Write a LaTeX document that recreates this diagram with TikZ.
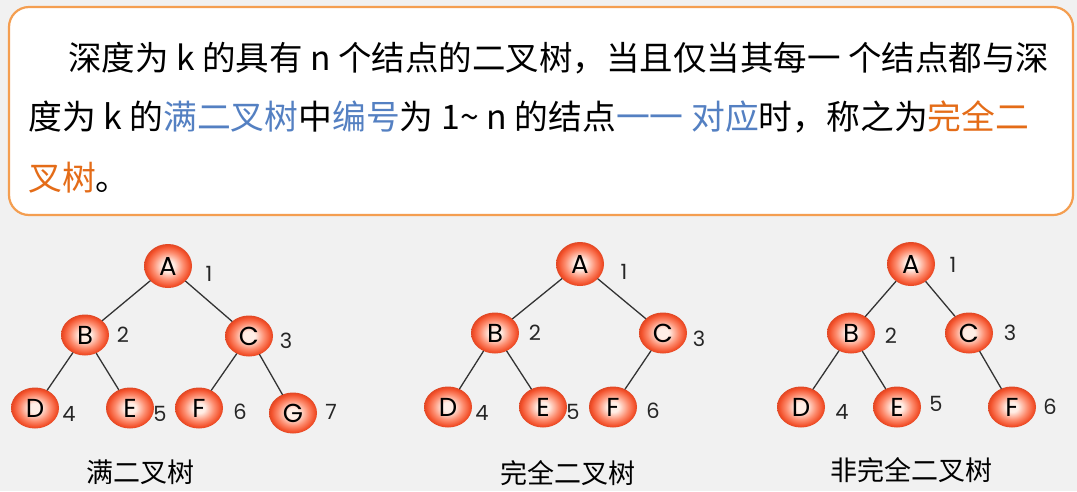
\documentclass[tikz,border=0pt]{standalone}
\usepackage{fontspec}
\setmainfont{Poppins}
\newfontfamily\cjk{Noto Sans CJK SC}
\usetikzlibrary{shapes.geometric}
\definecolor{bgGray}{RGB}{241,241,241}
\definecolor{boxOrange}{RGB}{244,158,80}
\definecolor{txtBlue}{RGB}{84,128,194}
\definecolor{txtOrange}{RGB}{228,108,24}
\definecolor{ballCore}{RGB}{255,238,230}
\definecolor{ballMid}{RGB}{253,138,108}
\definecolor{ballRim}{RGB}{242,78,40}
\pgfdeclareradialshading{redball}{\pgfpoint{0bp}{0bp}}{color(0bp)=(ballCore); color(6bp)=(ballCore); color(16bp)=(ballMid); color(23bp)=(ballRim); color(25bp)=(ballRim!92!black); color(50bp)=(ballRim!92!black)}
\tikzset{
  tnode/.style={ellipse, shade, shading=redball, minimum width=48pt, minimum height=41pt, inner sep=0pt, font=\fontsize{26}{26}\selectfont},
  num/.style={font=\fontsize{21}{21}\selectfont, text=black!85},
  edge/.style={black!80, line width=1.3pt},
  caption/.style={font=\cjk\fontsize{27}{27}\selectfont},
  para/.style={anchor=west, inner sep=0pt, font=\cjk\fontsize{33.8}{33.8}\selectfont}
}
\begin{document}
\begin{tikzpicture}[x=1pt, y=-1pt, line join=round, line cap=round]
  \useasboundingbox (0,0) rectangle (1077,491);
  \fill[bgGray] (0,0) rectangle (1077,491);

  % definition box
  \draw[boxOrange, line width=2.2pt, fill=white, rounded corners=20pt] (9,7) rectangle (1073,215);
  \node[para, font=\cjk\fontsize{33.5}{33.5}\selectfont] (line1) at (68,58) {深度为 k 的具有 n 个结点的二叉树，当且仅当其每一 个结点都与深};
  \node[para] (line2) at (28,117) {度为 k 的\textcolor{txtBlue}{满二叉树}中\textcolor{txtBlue}{编号}为 1\textasciitilde{} n 的结点\textcolor{txtBlue}{一一 对应}时，称之为\textcolor{txtOrange}{完全二}};
  \node[para] (line3) at (28,178) {\textcolor{txtOrange}{叉树}。};

  % full binary tree
  \node[tnode, minimum height=44pt] (a1) at (168,266) {A};
  \node[tnode] (b1) at (85,335) {B};
  \node[tnode] (c1) at (249,336) {C};
  \node[tnode] (d1) at (35,408) {D};
  \node[tnode] (e1) at (130,408) {E};
  \node[tnode] (f1) at (199,408) {F};
  \node[tnode] (g1) at (293,413) {G};
  \draw[edge] (a1) -- (b1);
  \draw[edge] (a1) -- (c1);
  \draw[edge] (b1) -- (d1);
  \draw[edge] (b1) -- (e1);
  \draw[edge] (c1) -- (f1);
  \draw[edge] (c1) -- (g1);
  \node[num] (n11) at (209,274) {1};
  \node[num] (n12) at (123,335) {2};
  \node[num] (n13) at (286,341) {3};
  \node[num] (n14) at (69,414) {4};
  \node[num] (n15) at (160,414) {5};
  \node[num] (n16) at (240,412) {6};
  \node[num] (n17) at (331,412) {7};
  \node[caption] (cap1) at (140,472) {满二叉树};

  % complete binary tree
  \node[tnode, minimum height=44pt] (a2) at (580,264) {A};
  \node[tnode] (b2) at (495,333) {B};
  \node[tnode] (c2) at (663,333) {C};
  \node[tnode] (d2) at (448,407) {D};
  \node[tnode] (e2) at (543,407) {E};
  \node[tnode] (f2) at (613,407) {F};
  \draw[edge] (a2) -- (b2);
  \draw[edge] (a2) -- (c2);
  \draw[edge] (b2) -- (d2);
  \draw[edge] (b2) -- (e2);
  \draw[edge] (c2) -- (f2);
  \node[num] (n21) at (624,272) {1};
  \node[num] (n22) at (535,333) {2};
  \node[num] (n23) at (699,339) {3};
  \node[num] (n24) at (482,413) {4};
  \node[num] (n25) at (573,412) {5};
  \node[num] (n26) at (653,411) {6};
  \node[caption] (cap2) at (568,473) {完全二叉树};

  % non-complete binary tree
  \node[tnode, minimum height=44pt] (a3) at (911,264) {A};
  \node[tnode] (b3) at (851,333) {B};
  \node[tnode] (c3) at (969,333) {C};
  \node[tnode] (d3) at (801,407) {D};
  \node[tnode] (e3) at (897,407) {E};
  \node[tnode] (f3) at (1012,407) {F};
  \draw[edge] (a3) -- (b3);
  \draw[edge] (a3) -- (c3);
  \draw[edge] (b3) -- (d3);
  \draw[edge] (b3) -- (e3);
  \draw[edge] (c3) -- (f3);
  \node[num] (n31) at (953,265) {1};
  \node[num] (n32) at (891,336) {2};
  \node[num] (n33) at (1010,333) {3};
  \node[num] (n34) at (842,412) {4};
  \node[num] (n35) at (936,404) {5};
  \node[num] (n36) at (1050,407) {6};
  \node[caption] (cap3) at (911,470) {非完全二叉树};
\end{tikzpicture}
\end{document}
